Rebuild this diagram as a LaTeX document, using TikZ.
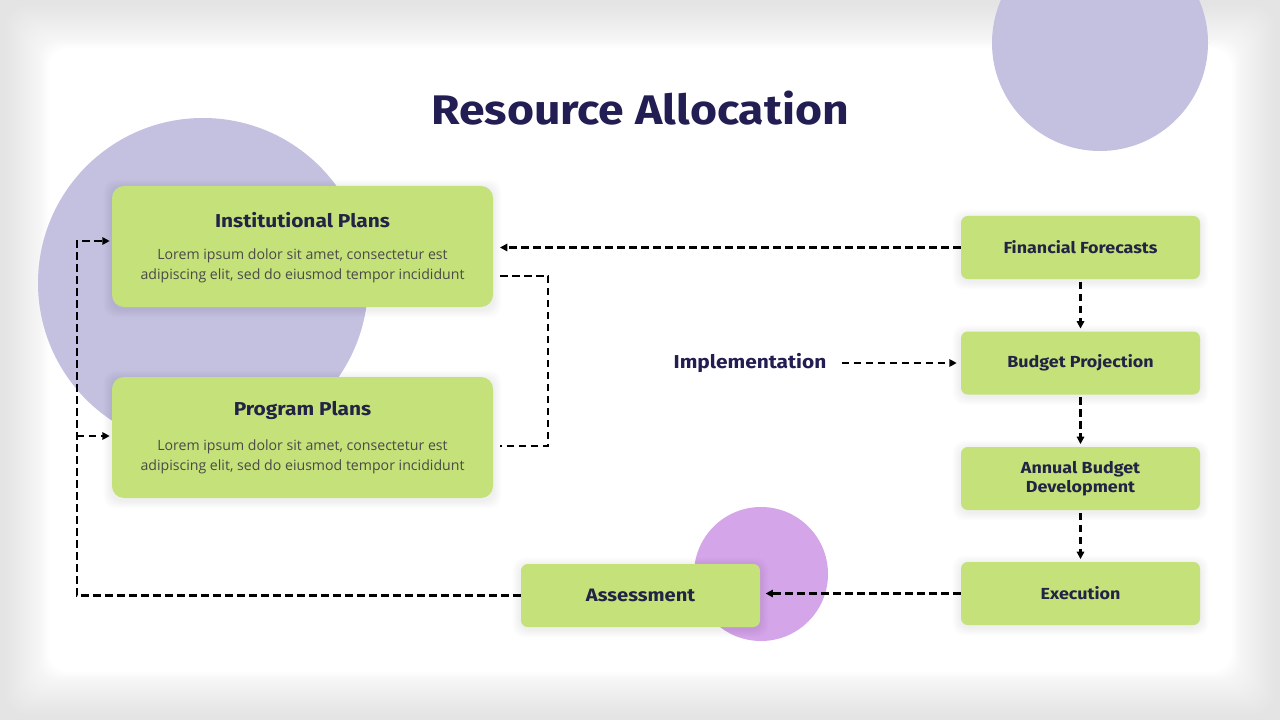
\documentclass[tikz,border=0pt]{standalone}
\usepackage{fontspec}
\setmainfont{Open Sans}
\newfontfamily\headfont{Fira Sans}[FakeStretch=1.12]
\usetikzlibrary{arrows.meta,calc}
\pgfdeclarelayer{bg}
\pgfdeclarelayer{shad}
\pgfsetlayers{bg,shad,main}
\definecolor{boxgreen}{HTML}{C5E17A}
\definecolor{lav}{HTML}{C4C0E0}
\definecolor{pinkc}{HTML}{D4A5E8}
\definecolor{navy}{HTML}{221D52}
\definecolor{labdark}{HTML}{222345}
\definecolor{bodygray}{HTML}{4A4A48}
\definecolor{bggray}{HTML}{E4E4E4}
\tikzset{
  bigbox/.style={fill=boxgreen, rounded corners=9pt, inner sep=0pt,
    minimum width=285.75pt, minimum height=90.75pt},
  smallbox/.style={fill=boxgreen, rounded corners=5pt, inner sep=0pt,
    minimum width=179.25pt, minimum height=47.25pt, align=center,
    font=\headfont\bfseries\fontsize{12}{13}\selectfont, text=labdark},
  bighead/.style={font=\headfont\bfseries\fontsize{14}{16}\selectfont, text=labdark},
  bodytxt/.style={font=\fontsize{10.6}{15}\selectfont, text=bodygray, align=center},
  conn/.style={line width=1.6pt, dash pattern=on 5.5pt off 3.5pt, black},
  tip/.style={-{Triangle[length=5.5pt,width=5.5pt]}},
}
\newcommand{\softshadow}[1]{%
  \begin{pgfonlayer}{shad}
  \foreach \k in {1,...,8}{%
    \fill[black,opacity=0.008,rounded corners=8pt]
      ([shift={(-\k,-\k+2)}]#1.north west) rectangle ([shift={(\k,\k+2)}]#1.south east);
  }
  \end{pgfonlayer}}
\begin{document}
\begin{tikzpicture}[x=0.75pt,y=-0.75pt]
\useasboundingbox (0,0) rectangle (1280,720);
\begin{pgfonlayer}{bg}
% background vignette
\fill[white] (0,0) rectangle (1280,720);
\foreach \i in {0,...,24}{
  \fill[bggray,opacity=0.055,even odd rule] (0,0) rectangle (1280,720)
    [rounded corners=15pt] (2*\i,2*\i) rectangle (1280-2*\i,720-2*\i);
}
% circles
\fill[lav] (203,283) circle[radius=165];
\fill[lav] (1100,43) circle[radius=108];
\fill[pinkc] (761,574) circle[radius=67];
\end{pgfonlayer}
% title
\node[font=\headfont\bfseries\fontsize{31}{36}\selectfont, text=navy] (title) at (640,108) {Resource Allocation};
% boxes
\node[bigbox] (IP) at (302.5,246.5) {};
\node[bigbox] (PP) at (302.5,437.5) {};
\node[bighead] (IPh) at (302.5,220) {Institutional Plans};
\node[bodytxt] (IPb) at (302.5,265.5) {Lorem ipsum dolor sit amet, consectetur est\\adipiscing elit, sed do eiusmod tempor incididunt};
\node[bighead] (PPh) at (302.5,410) {Program Plans};
\node[bodytxt] (PPb) at (302.5,457) {Lorem ipsum dolor sit amet, consectetur est\\adipiscing elit, sed do eiusmod tempor incididunt};

\node[smallbox] (FF) at (1080.5,247.5) {Financial Forecasts};
\node[smallbox] (BP) at (1080.5,363) {Budget Projection};
\node[smallbox] (AB) at (1080.5,478.5) {Annual Budget\\[1pt]Development};
\node[smallbox] (EX) at (1080.5,593.5) {Execution};
\node[smallbox, font=\headfont\bfseries\fontsize{13.5}{15}\selectfont] (AS) at (640.5,595.5) {Assessment};

\softshadow{IP}\softshadow{PP}\softshadow{FF}\softshadow{BP}\softshadow{AB}\softshadow{EX}\softshadow{AS}

\node[font=\headfont\bfseries\fontsize{14}{16}\selectfont, text=navy] (IM) at (750,363) {Implementation};

% connectors
\draw[conn,tip,shorten >=5pt] (FF.west) -- (FF.west -| IP.east);
\draw[conn] ([shift={(7,29.5)}]IP.east) -- ++(48,0) |- ([shift={(7,8.5)}]PP.east);
\draw[conn,tip] (AS.west) -| ([shift={(-35,-5.5)}]IP.west) -- ([shift={(-2,-5.5)}]IP.west);
\draw[conn,tip] ([shift={(-35,-1.5)}]PP.west) -- ([shift={(-2,-1.5)}]PP.west);
\draw[conn,tip,shorten >=4pt] (EX.west) -- (EX.west -| AS.east);
\draw[conn,tip,shorten <=8pt,shorten >=3pt] (IM.east) -- (BP.west);
\draw[conn,tip,shorten <=2pt,shorten >=2pt] (FF.south) -- (BP.north);
\draw[conn,tip,shorten <=2pt,shorten >=2pt] (BP.south) -- (AB.north);
\draw[conn,tip,shorten <=2pt,shorten >=2pt] (AB.south) -- (EX.north);
\end{tikzpicture}
\end{document}
